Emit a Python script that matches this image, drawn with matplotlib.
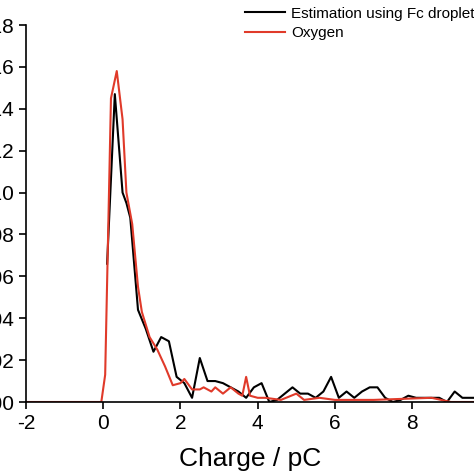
import matplotlib.pyplot as plt

plt.rcParams['font.family'] = ['Liberation Sans', 'DejaVu Sans']
plt.rcParams['axes.unicode_minus'] = False

fc_x = [0.1, 0.3, 0.5, 0.6, 0.7, 0.9, 1.1, 1.3, 1.5, 1.7, 1.9, 2.1, 2.3, 2.5, 2.7,
        2.9, 3.1, 3.3, 3.5, 3.7, 3.9, 4.1, 4.3, 4.5, 4.7, 4.9, 5.1, 5.3, 5.5, 5.7,
        5.9, 6.1, 6.3, 6.5, 6.7, 6.9, 7.1, 7.3, 7.5, 7.7, 7.9, 8.1, 8.3, 8.5, 8.7,
        8.9, 9.1, 9.3, 9.6]
fc_y = [0.066, 0.147, 0.100, 0.095, 0.088, 0.044, 0.035, 0.024, 0.031, 0.029,
        0.012, 0.009, 0.002, 0.021, 0.010, 0.010, 0.009, 0.007, 0.005, 0.002,
        0.007, 0.009, 0.000, 0.001, 0.004, 0.007, 0.004, 0.004, 0.002, 0.005,
        0.012, 0.002, 0.005, 0.002, 0.005, 0.007, 0.007, 0.002, 0.000, 0.001,
        0.003, 0.002, 0.002, 0.002, 0.002, 0.000, 0.005, 0.002, 0.002]

ox_x = [-2.0, -0.05, 0.05, 0.2, 0.35, 0.5, 0.6, 0.75, 0.9, 1.0, 1.2, 1.4, 1.6,
        1.8, 2.0, 2.1, 2.3, 2.5, 2.6, 2.8, 2.9, 3.1, 3.3, 3.5, 3.6, 3.7, 3.8,
        4.0, 4.2, 4.6, 5.0, 5.2, 5.6, 6.0, 6.5, 7.0, 8.5, 9.0, 9.6]
ox_y = [0.0, 0.0, 0.013, 0.145, 0.158, 0.135, 0.100, 0.085, 0.055, 0.043,
        0.031, 0.025, 0.017, 0.008, 0.009, 0.011, 0.006, 0.006, 0.007, 0.005,
        0.007, 0.004, 0.007, 0.004, 0.003, 0.012, 0.003, 0.002, 0.002, 0.001,
        0.004, 0.001, 0.002, 0.001, 0.001, 0.001, 0.002, 0.000, 0.000]

fig = plt.figure(figsize=(4.74, 4.74), dpi=100)
ax = fig.add_axes([26 / 474, 1 - 402 / 474, 1 - 26 / 474, (402 - 25) / 474])

ax.plot(fc_x, fc_y, color='black', lw=1.5, label='Estimation using Fc droplets as')
ax.plot(ox_x, ox_y, color='#e03a2a', lw=1.5, label='Oxygen')

ax.set_xlim(-2, 9.6)
ax.set_ylim(0, 0.18)
ax.set_xticks([-2, 0, 2, 4, 6, 8])
ax.set_yticks([0.0, 0.02, 0.04, 0.06, 0.08, 0.10, 0.12, 0.14, 0.16, 0.18])
ax.set_yticklabels(['0.00', '0.02', '0.04', '0.06', '0.08', '0.10', '0.12',
                    '0.14', '0.16', '0.18'])
ax.tick_params(labelsize=15, length=5, width=1.2)
for s in ['top', 'right']:
    ax.spines[s].set_visible(False)
for s in ['left', 'bottom']:
    ax.spines[s].set_linewidth(1.2)
ax.set_xlabel('Charge / pC', fontsize=19, labelpad=10)

ax.legend(loc='upper left', bbox_to_anchor=(236 / 474, 1.005),
          bbox_transform=fig.transFigure, frameon=False, fontsize=11,
          handlelength=2.6, handletextpad=0.4, borderpad=0.1, labelspacing=0.35)

fig.savefig('out.png', dpi=100)
